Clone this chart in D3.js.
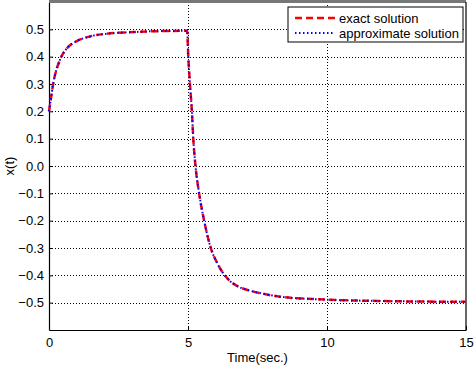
<!DOCTYPE html>
<html>
<head>
<meta charset="utf-8">
<script src="https://cdn.jsdelivr.net/npm/d3@7"></script>
<style>
  body { margin: 0; background: #fff; }
  svg { display: block; font-family: "Liberation Sans", Arial, sans-serif; }
</style>
</head>
<body>
<svg id="chart"></svg>
<script>
// values
const time = [0, 0.06, 0.15, 0.4, 0.64, 1.0, 1.47, 2.07, 3.03, 3.74, 4.5, 4.97,
  5.01, 5.07, 5.14, 5.19, 5.27, 5.40, 5.58, 5.82, 6.05, 6.25, 6.5, 6.75, 7.23, 7.59, 8.31, 10, 12, 15];
const exactSolution = [0.2, 0.24, 0.30, 0.39, 0.43, 0.457, 0.474, 0.484, 0.49, 0.493, 0.494, 0.495,
  0.4, 0.3, 0.2, 0.1, 0.0, -0.1, -0.2, -0.3, -0.355, -0.39, -0.42, -0.438, -0.456, -0.465, -0.478, -0.489, -0.494, -0.497];
const approxSolution = [0.2, 0.24, 0.30, 0.39, 0.43, 0.457, 0.474, 0.484, 0.49, 0.493, 0.494, 0.495,
  0.4, 0.3, 0.2, 0.1, 0.0, -0.1, -0.2, -0.3, -0.355, -0.39, -0.42, -0.438, -0.456, -0.465, -0.478, -0.489, -0.494, -0.497];
const xTicks = [0, 5, 10, 15];
const yTicks = [-0.5, -0.4, -0.3, -0.2, -0.1, 0, 0.1, 0.2, 0.3, 0.4, 0.5];
const seriesNames = ["exact solution", "approximate solution"];

let width = 474;
let height = 366;
let margin = ({top: 2, right: 8, bottom: 36, left: 49});

let x = d3.scaleLinear()
    .domain([0, 15])
    .range([margin.left, width - margin.right]);

let y = d3.scaleLinear()
    .domain([-0.6, 0.6])
    .range([height - margin.bottom, margin.top]);

const svg = d3.select("#chart")
    .attr("width", width)
    .attr("height", height);

// grid (black dotted, like matlab "grid on")
svg.append("g")
    .attr("shape-rendering", "crispEdges")
    .selectAll("line")
    .data(yTicks)
    .join("line")
    .attr("x1", margin.left).attr("x2", width - margin.right)
    .attr("y1", d => Math.round(y(d)) + 0.5).attr("y2", d => Math.round(y(d)) + 0.5)
    .attr("stroke", "#000").attr("stroke-width", 1)
    .attr("stroke-dasharray", "1,2");

svg.append("g")
    .attr("shape-rendering", "crispEdges")
    .selectAll("line")
    .data(xTicks.slice(1, -1))
    .join("line")
    .attr("x1", d => Math.round(x(d)) + 0.5).attr("x2", d => Math.round(x(d)) + 0.5)
    .attr("y1", margin.top).attr("y2", height - margin.bottom)
    .attr("stroke", "#000").attr("stroke-width", 1)
    .attr("stroke-dasharray", "1,2");

// axes
const xAxis = g => g
    .attr("transform", `translate(0,${height - margin.bottom})`)
    .call(d3.axisBottom(x).tickValues(xTicks).tickSizeInner(-4).tickSizeOuter(0).tickPadding(8))
    .call(g => g.select(".domain").attr("stroke-width", 1.2))
    .call(g => g.selectAll("text").attr("font-size", 13).attr("fill", "#000"));

const yAxis = g => g
    .attr("transform", `translate(${margin.left},0)`)
    .call(d3.axisLeft(y).tickValues(yTicks).tickSizeInner(-4).tickSizeOuter(0).tickPadding(5))
    .call(g => g.select(".domain").attr("stroke-width", 1.2))
    .call(g => g.selectAll("text").attr("font-size", 13).attr("fill", "#000"));

svg.append("g").call(xAxis);
svg.append("g").call(yAxis);

// top and right border
svg.append("line")
    .attr("x1", margin.left).attr("x2", width - margin.right)
    .attr("y1", 1.5).attr("y2", 1.5)
    .attr("stroke", "#777").attr("stroke-width", 3);
svg.append("line")
    .attr("x1", x(15)).attr("x2", x(15))
    .attr("y1", margin.top).attr("y2", height - margin.bottom)
    .attr("stroke", "#000").attr("stroke-width", 1.2);

// curves
const line = d3.line()
    .x((d, i) => x(time[i]))
    .y(d => y(d))
    .curve(d3.curveMonotoneX);

svg.append("path")
    .datum(exactSolution)
    .attr("fill", "none")
    .attr("stroke", "#f00")
    .attr("stroke-width", 2.5)
    .attr("stroke-dasharray", "7,4")
    .attr("d", line);

svg.append("path")
    .datum(approxSolution)
    .attr("fill", "none")
    .attr("stroke", "#00f")
    .attr("stroke-width", 2)
    .attr("stroke-dasharray", "1.5,2.5")
    .attr("d", line);

// labels
svg.append("text")
    .attr("x", (x(0) + x(15)) / 2)
    .attr("y", 362)
    .attr("text-anchor", "middle")
    .attr("font-size", 13)
    .text("Time(sec.)");

svg.append("text")
    .attr("transform", `translate(14,${y(0)}) rotate(-90)`)
    .attr("text-anchor", "middle")
    .attr("font-size", 13)
    .text("x(t)");

// legend
const legend = svg.append("g").attr("transform", "translate(288,7)");
legend.append("rect")
    .attr("width", 175).attr("height", 35)
    .attr("fill", "#fff").attr("stroke", "#000").attr("stroke-width", 1);

const styles = [
    {color: "#f00", w: 2.5, dash: "7,4"},
    {color: "#00f", w: 2, dash: "1.5,2.5"}
];
seriesNames.forEach((name, i) => {
    const yy = 11 + i * 15;
    legend.append("line")
        .attr("x1", 7).attr("x2", 47)
        .attr("y1", yy).attr("y2", yy)
        .attr("stroke", styles[i].color)
        .attr("stroke-width", styles[i].w)
        .attr("stroke-dasharray", styles[i].dash);
    legend.append("text")
        .attr("x", 51).attr("y", yy + 4.5)
        .attr("font-size", 13)
        .text(name);
});
</script>
</body>
</html>
